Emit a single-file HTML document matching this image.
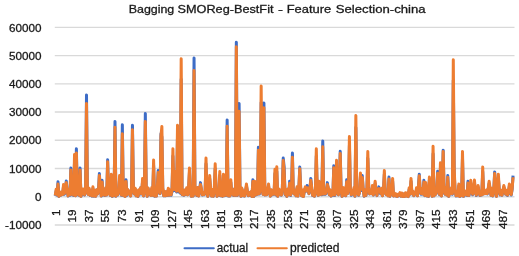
<!DOCTYPE html>
<html><head><meta charset="utf-8"><title>Bagging SMOReg-BestFit - Feature Selection-china</title>
<style>
html,body{margin:0;padding:0;background:#fff;}
body{width:519px;height:256px;overflow:hidden;}
svg{display:block;}
text{font-family:"Liberation Sans",sans-serif;fill:#1a1a1a;stroke:#1a1a1a;stroke-width:0.3px;}
.ax{font-size:11.7px;}
.ttl{font-size:11.5px;}
.lg{font-size:12.5px;}
</style></head><body>
<svg width="519" height="256" viewBox="0 0 519 256">
<rect width="519" height="256" fill="#fff"/>
<text y="13.0" class="ttl"><tspan x="128.7" textLength="45.6" lengthAdjust="spacingAndGlyphs">Bagging</tspan> <tspan x="177.5" textLength="96" lengthAdjust="spacingAndGlyphs">SMOReg-BestFit</tspan> <tspan x="278" textLength="5" lengthAdjust="spacingAndGlyphs">-</tspan> <tspan x="286.7" textLength="44.5" lengthAdjust="spacingAndGlyphs">Feature</tspan> <tspan x="335.8" textLength="89.8" lengthAdjust="spacingAndGlyphs">Selection-china</tspan></text>
<line x1="54.8" x2="514.5" y1="27.30" y2="27.30" stroke="#d9d9d9" stroke-width="1.3"/>
<line x1="54.8" x2="514.5" y1="55.54" y2="55.54" stroke="#d9d9d9" stroke-width="1.3"/>
<line x1="54.8" x2="514.5" y1="83.78" y2="83.78" stroke="#d9d9d9" stroke-width="1.3"/>
<line x1="54.8" x2="514.5" y1="112.02" y2="112.02" stroke="#d9d9d9" stroke-width="1.3"/>
<line x1="54.8" x2="514.5" y1="140.26" y2="140.26" stroke="#d9d9d9" stroke-width="1.3"/>
<line x1="54.8" x2="514.5" y1="168.50" y2="168.50" stroke="#d9d9d9" stroke-width="1.3"/>
<line x1="54.8" x2="514.5" y1="196.74" y2="196.74" stroke="#d9d9d9" stroke-width="1.3"/>
<line x1="54.8" x2="514.5" y1="224.98" y2="224.98" stroke="#d9d9d9" stroke-width="1.3"/>

<text x="41.5" y="31.50" text-anchor="end" class="ax">60000</text>
<text x="41.5" y="59.74" text-anchor="end" class="ax">50000</text>
<text x="41.5" y="87.98" text-anchor="end" class="ax">40000</text>
<text x="41.5" y="116.22" text-anchor="end" class="ax">30000</text>
<text x="41.5" y="144.46" text-anchor="end" class="ax">20000</text>
<text x="41.5" y="172.70" text-anchor="end" class="ax">10000</text>
<text x="41.5" y="200.94" text-anchor="end" class="ax">0</text>
<text x="41.5" y="229.18" text-anchor="end" class="ax">-10000</text>

<text transform="translate(59.84,209.5) rotate(-90)" text-anchor="end" class="ax">1</text>
<text transform="translate(76.39,209.5) rotate(-90)" text-anchor="end" class="ax">19</text>
<text transform="translate(92.93,209.5) rotate(-90)" text-anchor="end" class="ax">37</text>
<text transform="translate(109.48,209.5) rotate(-90)" text-anchor="end" class="ax">55</text>
<text transform="translate(126.03,209.5) rotate(-90)" text-anchor="end" class="ax">73</text>
<text transform="translate(142.58,209.5) rotate(-90)" text-anchor="end" class="ax">91</text>
<text transform="translate(159.12,209.5) rotate(-90)" text-anchor="end" class="ax">109</text>
<text transform="translate(175.67,209.5) rotate(-90)" text-anchor="end" class="ax">127</text>
<text transform="translate(192.22,209.5) rotate(-90)" text-anchor="end" class="ax">145</text>
<text transform="translate(208.77,209.5) rotate(-90)" text-anchor="end" class="ax">163</text>
<text transform="translate(225.31,209.5) rotate(-90)" text-anchor="end" class="ax">181</text>
<text transform="translate(241.86,209.5) rotate(-90)" text-anchor="end" class="ax">199</text>
<text transform="translate(258.41,209.5) rotate(-90)" text-anchor="end" class="ax">217</text>
<text transform="translate(274.96,209.5) rotate(-90)" text-anchor="end" class="ax">235</text>
<text transform="translate(291.50,209.5) rotate(-90)" text-anchor="end" class="ax">253</text>
<text transform="translate(308.05,209.5) rotate(-90)" text-anchor="end" class="ax">271</text>
<text transform="translate(324.60,209.5) rotate(-90)" text-anchor="end" class="ax">289</text>
<text transform="translate(341.15,209.5) rotate(-90)" text-anchor="end" class="ax">307</text>
<text transform="translate(357.69,209.5) rotate(-90)" text-anchor="end" class="ax">325</text>
<text transform="translate(374.24,209.5) rotate(-90)" text-anchor="end" class="ax">343</text>
<text transform="translate(390.79,209.5) rotate(-90)" text-anchor="end" class="ax">361</text>
<text transform="translate(407.34,209.5) rotate(-90)" text-anchor="end" class="ax">379</text>
<text transform="translate(423.88,209.5) rotate(-90)" text-anchor="end" class="ax">397</text>
<text transform="translate(440.43,209.5) rotate(-90)" text-anchor="end" class="ax">415</text>
<text transform="translate(456.98,209.5) rotate(-90)" text-anchor="end" class="ax">433</text>
<text transform="translate(473.52,209.5) rotate(-90)" text-anchor="end" class="ax">451</text>
<text transform="translate(490.07,209.5) rotate(-90)" text-anchor="end" class="ax">469</text>
<text transform="translate(506.62,209.5) rotate(-90)" text-anchor="end" class="ax">487</text>

<polyline fill="none" stroke="#3d6cc6" stroke-width="3" stroke-linejoin="round" stroke-linecap="butt" points="55.24,195.73 56.16,190.94 57.08,195.10 58.00,181.77 58.92,196.40 59.84,193.19 60.76,195.21 61.67,192.82 62.59,194.54 63.51,186.42 64.43,194.22 65.35,189.67 66.27,180.93 67.19,191.20 68.11,195.98 69.03,190.43 69.95,195.22 70.87,167.94 71.79,194.69 72.71,191.51 73.63,195.35 74.54,160.73 75.46,195.81 76.38,148.73 77.30,194.65 78.22,189.55 79.14,195.25 80.06,167.94 80.98,196.37 81.90,189.48 82.82,194.25 83.74,189.76 84.66,194.94 85.58,188.35 86.50,95.08 87.42,192.53 88.33,194.45 89.25,189.83 90.17,195.38 91.09,192.97 92.01,196.11 92.93,188.34 93.85,196.18 94.77,190.72 95.69,196.28 96.61,189.92 97.53,194.01 98.45,191.91 99.37,173.58 100.29,189.57 101.20,196.07 102.12,180.36 103.04,195.02 103.96,193.10 104.88,195.47 105.80,188.36 106.72,195.04 107.64,159.75 108.56,193.83 109.48,188.50 110.40,195.46 111.32,177.54 112.24,196.38 113.16,192.55 114.07,195.72 114.99,121.62 115.91,196.24 116.83,192.51 117.75,195.02 118.67,192.12 119.59,178.74 120.51,188.20 121.43,195.23 122.35,124.73 123.27,195.64 124.19,190.06 125.11,196.39 126.03,179.80 126.95,195.25 127.86,189.86 128.78,194.00 129.70,192.06 130.62,195.98 131.54,190.18 132.46,125.29 133.38,188.41 134.30,193.95 135.22,188.89 136.14,195.87 137.06,192.16 137.98,196.44 138.90,190.74 139.82,193.94 140.73,187.77 141.65,194.01 142.57,181.14 143.49,196.02 144.41,189.52 145.33,113.43 146.25,189.56 147.17,196.24 148.09,188.36 149.01,194.47 149.93,191.87 150.85,195.49 151.77,188.95 152.69,195.23 153.60,165.53 154.52,196.21 155.44,188.33 156.36,196.04 157.28,188.31 158.20,170.48 159.12,193.05 160.04,193.73 160.96,133.76 161.88,136.97 162.80,189.97 163.72,195.86 164.64,191.85 165.56,195.81 166.47,191.95 167.39,195.55 168.31,189.54 169.23,195.18 170.15,190.75 171.07,195.30 171.99,191.59 172.91,155.93 173.83,190.74 174.75,175.14 175.67,190.02 176.59,191.94 177.51,136.01 178.43,191.94 179.35,170.34 180.26,193.14 181.18,79.36 182.10,194.82 183.02,190.43 183.94,195.25 184.86,190.17 185.78,194.36 186.70,189.39 187.62,194.75 188.54,190.07 189.46,172.26 190.38,193.01 191.30,196.27 192.22,188.73 193.13,196.03 194.05,58.08 194.97,193.74 195.89,191.45 196.81,195.42 197.73,187.86 198.65,196.07 199.57,191.02 200.49,182.62 201.41,190.77 202.33,195.02 203.25,193.14 204.17,194.79 205.09,192.19 206.00,163.85 206.92,192.85 207.84,196.36 208.76,192.35 209.68,178.74 210.60,189.90 211.52,196.01 212.44,190.14 213.36,196.31 214.28,190.12 215.20,168.66 216.12,189.65 217.04,196.22 217.96,192.32 218.88,195.33 219.79,175.38 220.71,195.87 221.63,191.14 222.55,196.25 223.47,177.54 224.39,195.71 225.31,190.08 226.23,195.28 227.15,119.93 228.07,195.94 228.99,189.67 229.91,195.98 230.83,182.34 231.75,194.31 232.66,190.27 233.58,195.42 234.50,189.04 235.42,195.45 236.34,42.27 237.26,195.45 238.18,193.21 239.10,103.55 240.02,192.36 240.94,196.22 241.86,188.79 242.78,195.80 243.70,191.79 244.62,196.08 245.53,191.22 246.45,185.94 247.37,191.31 248.29,195.70 249.21,193.15 250.13,195.20 251.05,192.13 251.97,196.50 252.89,179.80 253.81,196.43 254.73,183.54 255.65,194.89 256.57,189.38 257.49,194.31 258.40,147.32 259.32,194.11 260.24,189.53 261.16,102.64 262.08,188.79 263.00,194.30 263.92,102.98 264.84,194.97 265.76,188.78 266.68,194.70 267.60,189.62 268.52,185.94 269.44,192.61 270.36,196.16 271.28,190.32 272.19,194.69 273.11,191.69 274.03,194.15 274.95,173.46 275.87,194.95 276.79,171.30 277.71,196.32 278.63,190.37 279.55,194.18 280.47,191.03 281.39,195.11 282.31,189.38 283.23,158.05 284.15,167.09 285.06,194.60 285.98,191.38 286.90,196.36 287.82,189.68 288.74,194.78 289.66,181.21 290.58,195.39 291.50,189.72 292.42,152.97 293.34,193.00 294.26,193.93 295.18,191.41 296.10,195.82 297.02,188.34 297.93,196.10 298.85,189.63 299.77,167.09 300.69,188.64 301.61,195.76 302.53,191.67 303.45,196.48 304.37,191.35 305.29,188.34 306.21,191.13 307.13,185.44 308.05,190.11 308.97,193.81 309.89,189.49 310.81,178.38 311.72,188.38 312.64,195.54 313.56,192.45 314.48,196.17 315.40,191.14 316.32,155.93 317.24,191.29 318.16,195.31 319.08,183.54 320.00,194.55 320.92,188.74 321.84,194.82 322.76,141.11 323.68,194.35 324.59,192.40 325.51,194.27 326.43,191.19 327.35,182.62 328.27,189.24 329.19,194.83 330.11,190.74 331.03,196.11 331.95,191.57 332.87,195.27 333.79,165.68 334.71,195.42 335.63,192.71 336.55,165.77 337.46,192.30 338.38,194.75 339.30,189.87 340.22,151.27 341.14,191.61 342.06,196.35 342.98,189.59 343.90,195.06 344.82,189.81 345.74,195.83 346.66,179.80 347.58,193.62 348.50,190.19 349.42,145.61 350.33,189.11 351.25,195.16 352.17,190.63 353.09,194.00 354.01,189.29 354.93,196.25 355.85,127.61 356.77,193.76 357.69,189.66 358.61,195.23 359.53,192.54 360.45,176.58 361.37,190.53 362.29,175.56 363.21,189.83 364.12,196.26 365.04,190.56 365.96,195.54 366.88,191.25 367.80,158.33 368.72,188.44 369.64,194.11 370.56,192.33 371.48,193.71 372.40,187.14 373.32,195.06 374.24,191.55 375.16,183.54 376.08,192.65 376.99,195.60 377.91,190.58 378.83,186.86 379.75,191.29 380.67,194.01 381.59,189.95 382.51,195.83 383.43,191.07 384.35,174.42 385.27,192.15 386.19,194.42 387.11,192.52 388.03,195.80 388.95,176.97 389.86,196.34 390.78,188.19 391.70,194.18 392.62,181.14 393.54,195.90 394.46,194.00 395.38,195.85 396.30,194.44 397.22,196.47 398.14,194.61 399.06,195.60 399.98,193.44 400.90,196.14 401.82,193.49 402.74,196.57 403.65,194.04 404.57,196.41 405.49,193.74 406.41,196.07 407.33,193.96 408.25,196.61 409.17,189.48 410.09,194.20 411.01,181.14 411.93,193.79 412.85,191.57 413.77,195.70 414.69,192.74 415.61,193.90 416.52,189.91 417.44,195.86 418.36,187.75 419.28,174.15 420.20,191.13 421.12,194.22 422.04,188.97 422.96,194.06 423.88,180.36 424.80,195.67 425.72,184.74 426.64,195.90 427.56,192.53 428.48,196.40 429.39,179.94 430.31,193.72 431.23,192.44 432.15,196.23 433.07,153.77 433.99,195.88 434.91,189.95 435.83,194.23 436.75,190.80 437.67,171.32 438.59,190.74 439.51,194.68 440.43,167.94 441.35,196.00 442.26,190.77 443.18,150.14 444.10,191.23 445.02,194.19 445.94,189.55 446.86,195.06 447.78,175.56 448.70,196.40 449.62,192.88 450.54,193.78 451.46,189.18 452.38,194.18 453.30,80.32 454.22,173.94 455.14,191.94 456.05,195.93 456.97,192.77 457.89,195.77 458.81,185.94 459.73,196.48 460.65,190.62 461.57,195.74 462.49,158.33 463.41,196.37 464.33,191.20 465.25,194.99 466.17,192.06 467.09,195.46 468.01,181.21 468.92,195.62 469.84,191.57 470.76,182.82 471.68,191.88 472.60,194.70 473.52,192.58 474.44,182.58 475.36,190.62 476.28,195.38 477.20,192.91 478.12,187.14 479.04,192.49 479.96,195.48 480.88,192.65 481.79,194.87 482.71,171.54 483.63,193.98 484.55,192.64 485.47,193.55 486.39,191.63 487.31,194.06 488.23,188.75 489.15,183.54 490.07,190.11 490.99,195.26 491.91,190.02 492.83,195.92 493.75,190.93 494.67,171.89 495.58,189.02 496.50,196.37 497.42,190.60 498.34,177.54 499.26,190.28 500.18,194.90 501.10,191.03 502.02,195.27 502.94,191.15 503.86,187.14 504.78,191.30 505.70,194.23 506.62,191.52 507.54,195.38 508.45,192.55 509.37,185.94 510.29,191.55 511.21,195.00 512.13,189.22 513.05,175.56"/>
<polyline fill="none" stroke="#ed7d31" stroke-width="3" stroke-linejoin="round" stroke-linecap="butt" points="55.24,195.45 56.16,189.20 57.08,194.79 58.00,184.03 58.92,196.34 59.84,192.15 60.76,195.14 61.67,191.87 62.59,194.51 63.51,184.60 64.43,193.42 65.35,188.14 66.27,182.62 67.19,190.94 68.11,195.90 69.03,189.26 69.95,194.76 70.87,169.91 71.79,194.34 72.71,190.91 73.63,195.05 74.54,154.38 75.46,195.70 76.38,152.97 77.30,194.19 78.22,187.52 79.14,195.16 80.06,169.91 80.98,196.34 81.90,188.62 82.82,193.74 83.74,188.97 84.66,194.66 85.58,188.23 86.50,103.55 87.42,192.20 88.33,194.45 89.25,188.33 90.17,195.26 91.09,192.39 92.01,195.94 92.93,186.86 93.85,196.06 94.77,190.52 95.69,196.21 96.61,189.71 97.53,193.91 98.45,191.09 99.37,175.56 100.29,187.64 101.20,195.91 102.12,182.06 103.04,194.63 103.96,192.48 104.88,195.31 105.80,187.66 106.72,194.86 107.64,161.72 108.56,193.66 109.48,188.06 110.40,195.24 111.32,174.15 112.24,196.26 113.16,191.44 114.07,195.40 114.99,127.27 115.91,196.14 116.83,192.37 117.75,194.55 118.67,191.22 119.59,175.56 120.51,188.19 121.43,195.01 122.35,133.76 123.27,195.39 124.19,188.29 125.11,196.39 126.03,181.49 126.95,194.77 127.86,189.82 128.78,193.78 129.70,191.18 130.62,195.94 131.54,189.80 132.46,129.81 133.38,188.38 134.30,193.81 135.22,188.34 136.14,195.75 137.06,190.70 137.98,196.37 138.90,189.68 139.82,193.49 140.73,187.74 141.65,193.49 142.57,178.38 143.49,195.85 144.41,189.33 145.33,121.62 146.25,189.18 147.17,196.19 148.09,187.88 149.01,194.13 149.93,191.60 150.85,195.42 151.77,187.56 152.69,195.21 153.60,160.03 154.52,196.06 155.44,187.90 156.36,196.00 157.28,187.52 158.20,172.45 159.12,191.84 160.04,193.44 160.96,136.02 161.88,126.42 162.80,188.30 163.72,195.68 164.64,191.28 165.56,195.65 166.47,191.84 167.39,195.36 168.31,188.27 169.23,195.15 170.15,189.95 171.07,194.83 171.99,190.27 172.91,148.73 173.83,189.68 174.75,171.32 175.67,188.83 176.59,191.09 177.51,125.29 178.43,191.09 179.35,165.68 180.26,192.50 181.18,58.65 182.10,194.55 183.02,189.90 183.94,195.05 184.86,190.07 185.78,194.29 186.70,187.71 187.62,194.72 188.54,188.23 189.46,167.94 190.38,192.14 191.30,196.23 192.22,188.52 193.13,195.98 194.05,70.51 194.97,193.72 195.89,191.39 196.81,195.22 197.73,187.47 198.65,195.96 199.57,189.88 200.49,184.60 201.41,188.83 202.33,194.74 203.25,192.41 204.17,194.52 205.09,192.18 206.00,158.05 206.92,191.97 207.84,196.33 208.76,191.13 209.68,175.56 210.60,188.34 211.52,195.99 212.44,189.60 213.36,196.18 214.28,189.01 215.20,163.70 216.12,189.28 217.04,196.20 217.96,192.17 218.88,195.05 219.79,171.61 220.71,195.63 221.63,189.83 222.55,196.12 223.47,174.15 224.39,195.49 225.31,188.64 226.23,194.90 227.15,126.14 228.07,195.68 228.99,188.78 229.91,195.87 230.83,179.80 231.75,193.91 232.66,189.99 233.58,195.24 234.50,189.01 235.42,195.39 236.34,46.79 237.26,195.20 238.18,192.23 239.10,111.17 240.02,191.20 240.94,196.20 241.86,188.08 242.78,195.58 243.70,191.01 244.62,195.97 245.53,191.17 246.45,184.03 247.37,191.26 248.29,195.50 249.21,192.50 250.13,194.98 251.05,191.48 251.97,196.44 252.89,181.49 253.81,196.33 254.73,181.21 255.65,194.64 256.57,188.69 257.49,194.23 258.40,150.14 259.32,193.40 260.24,188.82 261.16,86.04 262.08,187.97 263.00,194.18 263.92,107.78 264.84,194.89 265.76,188.41 266.68,194.64 267.60,189.03 268.52,184.03 269.44,191.83 270.36,196.13 271.28,189.66 272.19,194.51 273.11,190.02 274.03,193.98 274.95,169.35 275.87,194.41 276.79,166.81 277.71,196.23 278.63,188.80 279.55,194.16 280.47,189.99 281.39,194.97 282.31,188.61 283.23,160.59 284.15,171.32 285.06,194.15 285.98,189.62 286.90,196.27 287.82,189.09 288.74,194.36 289.66,183.18 290.58,195.01 291.50,187.96 292.42,157.20 293.34,192.42 294.26,193.91 295.18,190.22 296.10,195.81 297.02,186.86 297.93,196.02 298.85,187.66 299.77,168.78 300.69,188.00 301.61,195.74 302.53,190.03 303.45,196.45 304.37,190.21 305.29,186.86 306.21,190.90 307.13,187.70 308.05,188.24 308.97,193.58 309.89,187.92 310.81,180.36 311.72,187.43 312.64,195.34 313.56,191.11 314.48,196.14 315.40,191.05 316.32,148.73 317.24,189.91 318.16,195.30 319.08,181.21 320.00,194.50 320.92,187.72 321.84,194.22 322.76,146.76 323.68,194.12 324.59,191.05 325.51,193.58 326.43,190.10 327.35,184.60 328.27,187.54 329.19,194.42 330.11,189.67 331.03,195.94 331.95,191.45 332.87,194.91 333.79,167.65 334.71,195.06 335.63,191.53 336.55,160.31 337.46,191.29 338.38,194.69 339.30,188.69 340.22,153.53 341.14,190.59 342.06,196.26 342.98,187.59 343.90,194.89 344.82,188.12 345.74,195.62 346.66,181.77 347.58,193.49 348.50,188.07 349.42,136.59 350.33,187.95 351.25,194.63 352.17,190.51 353.09,193.89 354.01,187.56 354.93,196.12 355.85,115.41 356.77,193.53 357.69,189.21 358.61,195.04 359.53,192.30 360.45,173.02 361.37,189.22 362.29,177.54 363.21,189.27 364.12,196.11 365.04,189.84 365.96,195.25 366.88,189.45 367.80,151.56 368.72,187.63 369.64,193.71 370.56,191.31 371.48,193.47 372.40,185.44 373.32,194.91 374.24,190.37 375.16,181.21 376.08,191.35 376.99,195.41 377.91,189.03 378.83,188.55 379.75,189.94 380.67,193.44 381.59,188.34 382.51,195.77 383.43,191.00 384.35,170.48 385.27,191.37 386.19,194.39 387.11,191.76 388.03,195.80 388.95,178.95 389.86,196.27 390.78,187.94 391.70,194.18 392.62,178.38 393.54,195.88 394.46,193.13 395.38,195.68 396.30,193.98 397.22,196.38 398.14,194.19 399.06,195.28 399.98,192.63 400.90,196.11 401.82,192.95 402.74,196.54 403.65,193.98 404.57,196.34 405.49,192.78 406.41,196.04 407.33,193.08 408.25,196.56 409.17,187.83 410.09,194.14 411.01,178.38 411.93,193.48 412.85,191.17 413.77,195.47 414.69,192.48 415.61,193.61 416.52,187.71 417.44,195.73 418.36,187.64 419.28,175.84 420.20,190.32 421.12,193.57 422.04,188.42 422.96,193.90 423.88,182.06 424.80,195.46 425.72,182.62 426.64,195.84 427.56,191.25 428.48,196.35 429.39,176.97 430.31,193.71 431.23,191.16 432.15,196.16 433.07,146.19 433.99,195.73 434.91,189.35 435.83,194.13 436.75,189.13 437.67,173.30 438.59,189.62 439.51,194.16 440.43,162.85 441.35,195.98 442.26,189.56 443.18,151.56 444.10,189.93 445.02,193.95 445.94,187.47 446.86,194.98 447.78,177.25 448.70,196.33 449.62,191.90 450.54,193.44 451.46,187.78 452.38,193.77 453.30,59.78 454.22,169.91 455.14,191.09 456.05,195.78 456.97,191.79 457.89,195.67 458.81,184.03 459.73,196.42 460.65,189.06 461.57,195.49 462.49,151.56 463.41,196.26 464.33,190.49 465.25,194.47 466.17,191.67 467.09,195.18 468.01,182.90 468.92,195.49 469.84,190.69 470.76,180.36 471.68,190.65 472.60,194.20 473.52,192.47 474.44,180.08 475.36,190.44 476.28,195.03 477.20,192.43 478.12,185.44 479.04,192.05 479.96,195.31 480.88,191.76 481.79,194.84 482.71,167.09 483.63,193.96 484.55,191.50 485.47,193.53 486.39,190.05 487.31,193.58 488.23,187.91 489.15,181.21 490.07,188.51 490.99,195.20 491.91,188.29 492.83,195.78 493.75,189.87 494.67,173.58 495.58,188.82 496.50,196.33 497.42,188.65 498.34,174.15 499.26,189.46 500.18,194.51 501.10,190.37 502.02,195.14 502.94,190.23 503.86,185.44 504.78,190.02 505.70,194.09 506.62,190.17 507.54,194.99 508.45,191.85 509.37,184.03 510.29,189.91 511.21,194.48 512.13,188.78 513.05,177.25"/>
<line x1="184.5" x2="213.8" y1="248.3" y2="248.3" stroke="#3d6cc6" stroke-width="2" stroke-linecap="round"/>
<text x="216.8" y="251.6" class="lg" textLength="31.2" lengthAdjust="spacingAndGlyphs">actual</text>
<line x1="257.5" x2="286.8" y1="248.3" y2="248.3" stroke="#ed7d31" stroke-width="2" stroke-linecap="round"/>
<text x="290" y="251.6" class="lg" textLength="49.5" lengthAdjust="spacingAndGlyphs">predicted</text>
</svg>
</body></html>
